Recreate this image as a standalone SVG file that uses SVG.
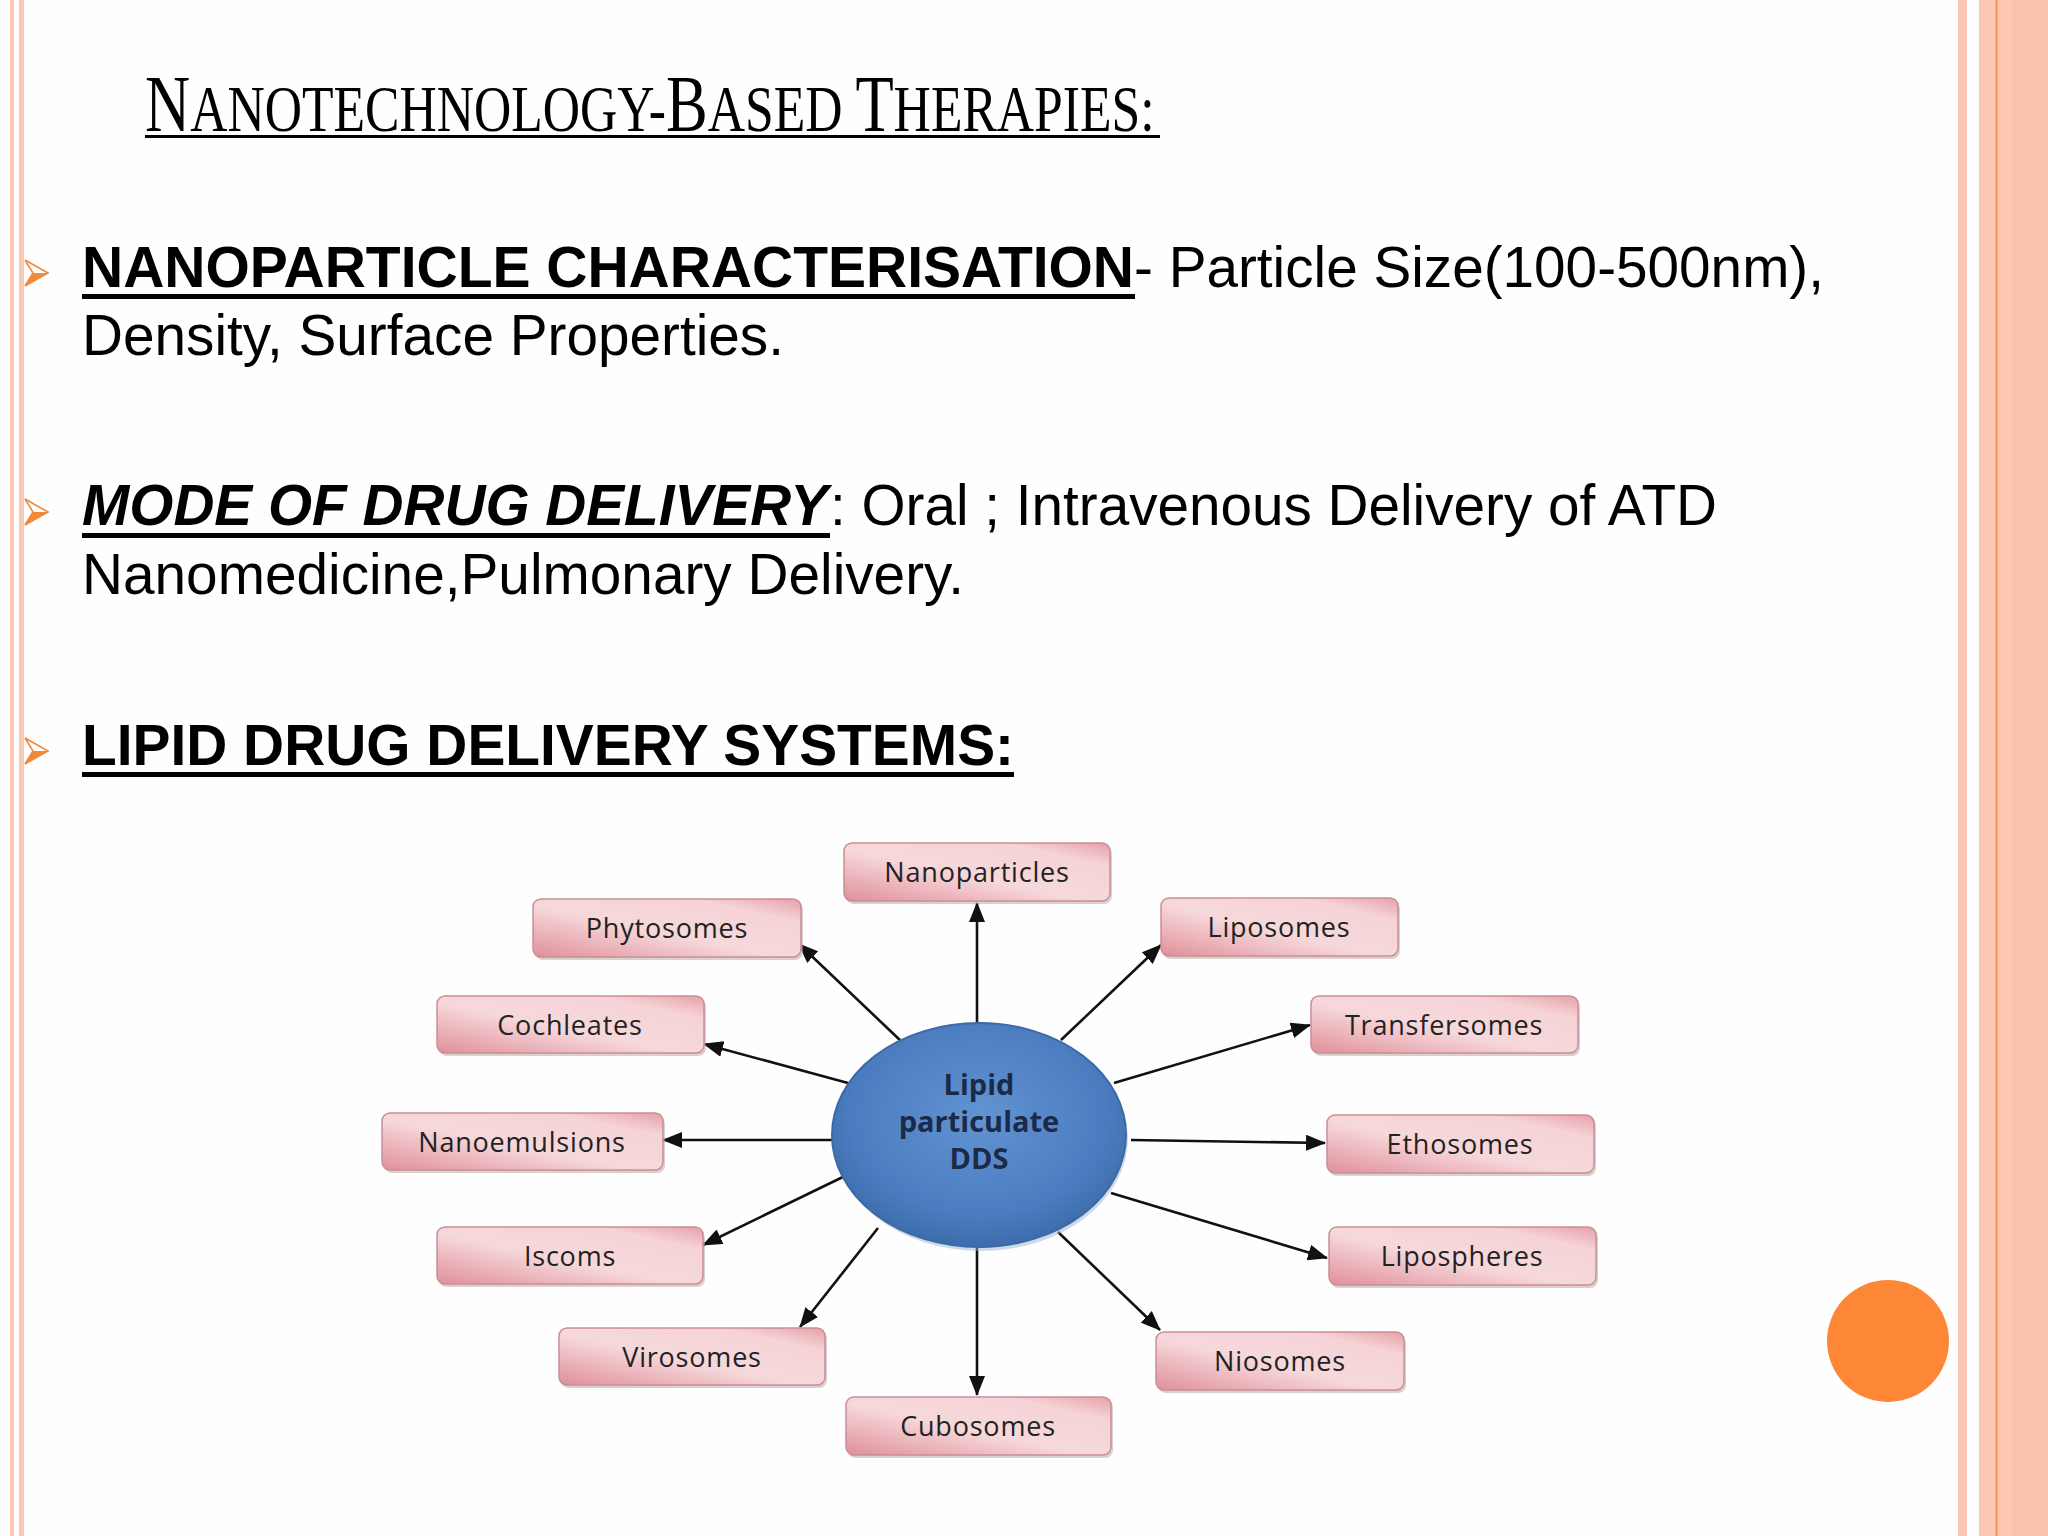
<svg xmlns="http://www.w3.org/2000/svg" width="2048" height="1536" viewBox="0 0 2048 1536">
<defs>
<style>
.body{font-family:"Liberation Sans",Arial,sans-serif;font-size:57px;fill:#000}
.b{font-weight:bold}
.bi{font-weight:bold;font-style:italic}
.ttl{font-family:"Liberation Serif","Times New Roman",serif;fill:#000}
.big{font-size:80px}
.sm{font-size:66px}
.lbl{font-family:"Open Sans","DejaVu Sans",sans-serif;font-size:27px;font-weight:500;fill:#222;text-anchor:middle;letter-spacing:0.8px}
.ctr{font-family:"Open Sans","DejaVu Sans",sans-serif;font-size:29px;font-weight:bold;fill:#1b2a48;text-anchor:middle}
.box{fill:url(#pink);stroke:#c98e95;stroke-width:1.5}
.shadow{fill:#b9a9aa;opacity:0.55}
.conn line{stroke:#111;stroke-width:2.6;marker-end:url(#arr)}
.stripe{fill:#fcc8b4}
</style>
<linearGradient id="pink" x1="0" y1="1" x2="1" y2="0">
<stop offset="0" stop-color="#e08f99"/>
<stop offset="0.45" stop-color="#f6d8db"/>
<stop offset="0.8" stop-color="#f5d3d6"/>
<stop offset="1" stop-color="#e6a0a8"/>
</linearGradient>
<radialGradient id="blue" cx="0.5" cy="0.42" r="0.62">
<stop offset="0" stop-color="#6294d3"/>
<stop offset="0.7" stop-color="#4a7cbf"/>
<stop offset="1" stop-color="#3a68a6"/>
</radialGradient>
<marker id="arr" viewBox="0 0 20 16" markerUnits="userSpaceOnUse" markerWidth="20" markerHeight="16" refX="19" refY="8" orient="auto">
<path d="M0,0 L20,8 L0,16 z" fill="#111"/>
</marker>
<g id="bullet">
<path d="M0,-13 L23,0 L0,13 L8,0 Z" fill="none" stroke="#f08a3a" stroke-width="1.6"/>
<path d="M8,0 L23,0 L0,13 Z" fill="#f08a3a"/>
</g>
</defs>
<rect x="0" y="0" width="2048" height="1536" fill="#fffefe"/>
<!-- borders -->
<rect class="stripe" x="10" y="0" width="4" height="1536"/>
<rect class="stripe" x="19" y="0" width="5" height="1536"/>
<rect class="stripe" x="1958" y="0" width="9" height="1536"/>
<rect class="stripe" x="1979" y="0" width="69" height="1536"/>
<rect x="2012" y="0" width="36" height="1536" fill="#f8c2ad"/>
<rect x="1995.5" y="0" width="2" height="1536" fill="#f39055"/>
<circle cx="1888" cy="1341" r="61" fill="#fd8637"/>
<!-- title -->
<g id="title">
<g transform="translate(145,131) scale(0.782,1)">
<text class="ttl" x="0" y="0"><tspan class="big">N</tspan><tspan class="sm">ANOTECHNOLOGY-</tspan><tspan class="big">B</tspan><tspan class="sm">ASED </tspan><tspan class="big">T</tspan><tspan class="sm">HERAPIES:</tspan></text>
</g>
<rect x="145" y="135" width="1015" height="3" fill="#000"/>
</g>
<!-- bullet 1 -->
<use href="#bullet" x="25" y="273"/>
<text class="body b" x="82" y="287" textLength="1052" lengthAdjust="spacingAndGlyphs">NANOPARTICLE CHARACTERISATION</text>
<rect x="82" y="294" width="1053" height="5" fill="#000"/>
<text class="body" x="1134" y="287" textLength="690" lengthAdjust="spacingAndGlyphs">- Particle Size(100-500nm),</text>
<text class="body" x="82" y="355" textLength="702" lengthAdjust="spacingAndGlyphs">Density, Surface Properties.</text>
<!-- bullet 2 -->
<use href="#bullet" x="25" y="512"/>
<text class="body bi" x="82" y="525" textLength="746" lengthAdjust="spacingAndGlyphs">MODE OF DRUG DELIVERY</text>
<rect x="82" y="533" width="748" height="5" fill="#000"/>
<text class="body" x="830" y="525" textLength="887" lengthAdjust="spacingAndGlyphs">: Oral ; Intravenous Delivery of ATD</text>
<text class="body" x="82" y="594" textLength="882" lengthAdjust="spacingAndGlyphs">Nanomedicine,Pulmonary Delivery.</text>
<!-- bullet 3 -->
<use href="#bullet" x="25" y="751"/>
<text class="body b" x="82" y="765" textLength="932" lengthAdjust="spacingAndGlyphs">LIPID DRUG DELIVERY SYSTEMS:</text>
<rect x="82" y="772" width="932" height="5" fill="#000"/>
<!-- connectors -->
<g class="conn" id="connectors">
<line x1="977" y1="1025" x2="977" y2="903"/>
<line x1="902" y1="1042" x2="799" y2="944"/>
<line x1="1061" y1="1040" x2="1161" y2="945"/>
<line x1="848" y1="1083" x2="704" y2="1044"/>
<line x1="1114" y1="1083" x2="1310" y2="1025"/>
<line x1="835" y1="1140" x2="663" y2="1140"/>
<line x1="1131" y1="1140" x2="1325" y2="1143"/>
<line x1="847" y1="1175" x2="703" y2="1245"/>
<line x1="1111" y1="1193" x2="1327" y2="1258"/>
<line x1="878" y1="1228" x2="800" y2="1327"/>
<line x1="1058" y1="1232" x2="1160" y2="1330"/>
<line x1="977" y1="1245" x2="977" y2="1395"/>
</g>
<!-- center -->
<g id="center">
<ellipse cx="981" cy="1138" rx="147" ry="113" fill="#9fb6d3" opacity="0.5"/>
<ellipse cx="979" cy="1135" rx="147" ry="112" fill="url(#blue)" stroke="#3b6aa5" stroke-width="2"/>
<text class="ctr" x="979" y="1095">Lipid</text>
<text class="ctr" x="979" y="1132">particulate</text>
<text class="ctr" x="979" y="1169">DDS</text>
</g>
<!-- nodes -->
<g id="n-nanoparticles"><rect class="shadow" x="846" y="846" width="266" height="58" rx="8"/><rect class="box" x="844" y="843" width="266" height="58" rx="8"/><text class="lbl" x="977" y="882">Nanoparticles</text></g>
<g id="n-phytosomes"><rect class="shadow" x="535" y="902" width="268" height="58" rx="8"/><rect class="box" x="533" y="899" width="268" height="58" rx="8"/><text class="lbl" x="667" y="938">Phytosomes</text></g>
<g id="n-liposomes"><rect class="shadow" x="1163" y="901" width="237" height="58" rx="8"/><rect class="box" x="1161" y="898" width="237" height="58" rx="8"/><text class="lbl" x="1279" y="937">Liposomes</text></g>
<g id="n-cochleates"><rect class="shadow" x="439" y="999" width="267" height="57" rx="8"/><rect class="box" x="437" y="996" width="267" height="57" rx="8"/><text class="lbl" x="570" y="1035">Cochleates</text></g>
<g id="n-transfersomes"><rect class="shadow" x="1313" y="999" width="267" height="57" rx="8"/><rect class="box" x="1311" y="996" width="267" height="57" rx="8"/><text class="lbl" x="1444" y="1035">Transfersomes</text></g>
<g id="n-nanoemulsions"><rect class="shadow" x="384" y="1116" width="281" height="57" rx="8"/><rect class="box" x="382" y="1113" width="281" height="57" rx="8"/><text class="lbl" x="522" y="1152">Nanoemulsions</text></g>
<g id="n-ethosomes"><rect class="shadow" x="1329" y="1118" width="267" height="58" rx="8"/><rect class="box" x="1327" y="1115" width="267" height="58" rx="8"/><text class="lbl" x="1460" y="1154">Ethosomes</text></g>
<g id="n-iscoms"><rect class="shadow" x="439" y="1230" width="266" height="57" rx="8"/><rect class="box" x="437" y="1227" width="266" height="57" rx="8"/><text class="lbl" x="570" y="1266">Iscoms</text></g>
<g id="n-lipospheres"><rect class="shadow" x="1331" y="1230" width="267" height="58" rx="8"/><rect class="box" x="1329" y="1227" width="267" height="58" rx="8"/><text class="lbl" x="1462" y="1266">Lipospheres</text></g>
<g id="n-virosomes"><rect class="shadow" x="561" y="1331" width="266" height="57" rx="8"/><rect class="box" x="559" y="1328" width="266" height="57" rx="8"/><text class="lbl" x="692" y="1367">Virosomes</text></g>
<g id="n-niosomes"><rect class="shadow" x="1158" y="1335" width="248" height="58" rx="8"/><rect class="box" x="1156" y="1332" width="248" height="58" rx="8"/><text class="lbl" x="1280" y="1371">Niosomes</text></g>
<g id="n-cubosomes"><rect class="shadow" x="848" y="1400" width="265" height="58" rx="8"/><rect class="box" x="846" y="1397" width="265" height="58" rx="8"/><text class="lbl" x="978" y="1436">Cubosomes</text></g>
</svg>
